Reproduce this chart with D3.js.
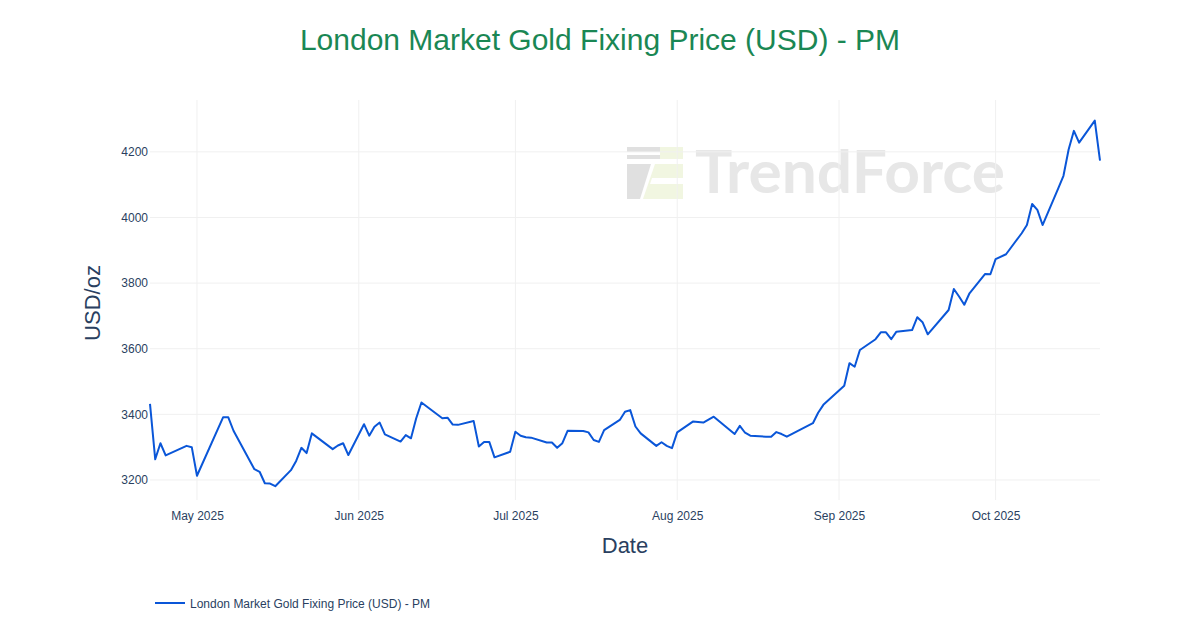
<!DOCTYPE html>
<html>
<head>
<meta charset="utf-8">
<script src="https://cdn.jsdelivr.net/npm/d3@7"></script>
<style>
  html, body { margin: 0; padding: 0; background: #fff; }
  svg { display: block; font-family: "Liberation Sans", Arial, sans-serif; }
</style>
</head>
<body>
<svg id="chart" width="1200" height="630"></svg>
<script>
// ---- data ----
const dates = [
  "2025-04-22","2025-04-23","2025-04-24","2025-04-25","2025-04-29","2025-04-30",
  "2025-05-01","2025-05-06","2025-05-07","2025-05-08","2025-05-12","2025-05-13",
  "2025-05-14","2025-05-15","2025-05-16","2025-05-19","2025-05-20","2025-05-21",
  "2025-05-22","2025-05-23","2025-05-27","2025-05-28","2025-05-29","2025-05-30",
  "2025-06-02","2025-06-03","2025-06-04","2025-06-05","2025-06-06","2025-06-09",
  "2025-06-10","2025-06-11","2025-06-12","2025-06-13","2025-06-17","2025-06-18",
  "2025-06-19","2025-06-20","2025-06-23","2025-06-24","2025-06-25","2025-06-26",
  "2025-06-27","2025-06-30","2025-07-01","2025-07-02","2025-07-03","2025-07-04",
  "2025-07-07","2025-07-08","2025-07-09","2025-07-10","2025-07-11","2025-07-14",
  "2025-07-15","2025-07-16","2025-07-17","2025-07-18","2025-07-21","2025-07-22",
  "2025-07-23","2025-07-24","2025-07-25","2025-07-28","2025-07-29","2025-07-30",
  "2025-07-31","2025-08-01","2025-08-04","2025-08-06","2025-08-08","2025-08-12",
  "2025-08-13","2025-08-14","2025-08-15","2025-08-18","2025-08-19","2025-08-20",
  "2025-08-21","2025-08-22","2025-08-27","2025-08-28","2025-08-29","2025-09-02",
  "2025-09-03","2025-09-04","2025-09-05","2025-09-08","2025-09-09","2025-09-10",
  "2025-09-11","2025-09-12","2025-09-15","2025-09-16","2025-09-17","2025-09-18",
  "2025-09-22","2025-09-23","2025-09-24","2025-09-25","2025-09-26","2025-09-29",
  "2025-09-30","2025-10-01","2025-10-03","2025-10-06","2025-10-07","2025-10-08",
  "2025-10-09","2025-10-10","2025-10-13","2025-10-14","2025-10-15","2025-10-16",
  "2025-10-17","2025-10-20","2025-10-21"
];
const prices = [
  3432,3263,3312,3275,3304,3300,
  3213,3391,3391,3350,3233,3225,
  3190,3189,3181,3230,3258,3298,
  3282,3342,3294,3305,3312,3276,
  3370,3335,3362,3375,3339,3317,
  3337,3327,3388,3436,3388,3390,
  3369,3368,3380,3302,3316,3316,
  3269,3286,3347,3335,3330,3329,
  3314,3314,3298,3312,3350,3349,
  3345,3322,3316,3352,3383,3408,
  3413,3363,3342,3304,3315,3304,
  3297,3345,3378,3375,3393,3340,
  3365,3344,3335,3332,3332,3346,
  3340,3332,3373,3405,3429,3487,
  3556,3545,3596,3629,3650,3650,
  3629,3652,3657,3696,3681,3644,
  3718,3782,3759,3734,3769,3828,
  3827,3873,3888,3952,3977,4041,
  4023,3977,4089,4127,4208,4264,
  4228,4295,4173
];
const yTicks = [3200, 3400, 3600, 3800, 4000, 4200];
const xTicks = ["2025-05-01","2025-06-01","2025-07-01","2025-08-01","2025-09-01","2025-10-01"];
const titleText = "London Market Gold Fixing Price (USD) - PM";
const seriesName = "London Market Gold Fixing Price (USD) - PM";
const xTitle = "Date";
const yTitle = "USD/oz";

// ---- setup ----
const parse = d3.utcParse("%Y-%m-%d");
const data = dates.map((d, i) => ({ date: parse(d), value: prices[i] }));

const svg = d3.select("#chart");
const W = 1200, H = 630;
const m = { left: 150, right: 100, top: 100, bottom: 130 };
const pw = W - m.left - m.right, ph = H - m.top - m.bottom;

const x = d3.scaleUtc()
  .domain([parse("2025-04-22"), parse("2025-10-21")])
  .range([m.left, m.left + pw]);
const y = d3.scaleLinear()
  .domain([3139, 4358])
  .range([m.top + ph, m.top]);

const textColor = "#2a3f5f";
const gridColor = "#f0f0f0";

// ---- watermark ----
const wm = svg.append("g").attr("opacity", 0.55);
wm.append("path")
  .attr("d", "M627,147 L660,147 L660,152 L627,152 Z M627,155 L660,155 L660,159 L627,159 Z M627,164 L651,164 L640,199 L627,199 Z")
  .attr("fill", "#c8c8c8");
wm.append("path")
  .attr("d", "M660,147 L683,147 L683,159 L660,159 Z M655,164 L683,164 L683,199 L643,199 Z")
  .attr("fill", "#e6efc9");
wm.append("path")
  .attr("d", "M652,178 L683,178 L683,184 L650,184 Z")
  .attr("fill", "#ffffff");
wm.append("text")
  .attr("x", 695).attr("y", 193)
  .attr("font-family", "Lato, 'Open Sans', sans-serif")
  .attr("font-weight", "bold")
  .attr("font-size", 60)
  .attr("textLength", 310)
  .attr("lengthAdjust", "spacingAndGlyphs")
  .attr("fill", "#d4d4d4")
  .text("TrendForce");

// ---- grid ----
const grid = svg.append("g");
grid.selectAll("line.h").data(yTicks).join("line")
  .attr("x1", m.left).attr("x2", m.left + pw)
  .attr("y1", d => y(d)).attr("y2", d => y(d))
  .attr("stroke", gridColor).attr("stroke-width", 1);
grid.selectAll("line.v").data(xTicks.map(parse)).join("line")
  .attr("y1", m.top).attr("y2", m.top + ph)
  .attr("x1", d => x(d)).attr("x2", d => x(d))
  .attr("stroke", gridColor).attr("stroke-width", 1);

// ---- axes ----
const yAxis = d3.axisLeft(y).tickValues(yTicks).tickSize(0).tickPadding(2).tickFormat(d3.format("d"));
const gy = svg.append("g").attr("transform", `translate(${m.left - 0},0)`).call(yAxis);
gy.select(".domain").remove();
gy.selectAll("text").attr("font-size", 12).attr("fill", textColor)
  .attr("font-family", "'Liberation Sans', Arial, sans-serif");

const xAxis = d3.axisBottom(x).tickValues(xTicks.map(parse)).tickSize(0).tickPadding(11)
  .tickFormat(d3.utcFormat("%b %Y"));
const gx = svg.append("g").attr("transform", `translate(0,${m.top + ph})`).call(xAxis);
gx.select(".domain").remove();
gx.selectAll("text").attr("font-size", 12).attr("fill", textColor)
  .attr("font-family", "'Liberation Sans', Arial, sans-serif");

// ---- line ----
const line = d3.line().x(d => x(d.date)).y(d => y(d.value));
svg.append("path").datum(data)
  .attr("d", line)
  .attr("fill", "none")
  .attr("stroke", "#0a56d8")
  .attr("stroke-width", 2)
  .attr("stroke-linejoin", "round");

// ---- titles ----
svg.append("text")
  .attr("x", 600).attr("y", 50)
  .attr("text-anchor", "middle")
  .attr("font-size", 30)
  .attr("fill", "#1a8754")
  .text(titleText);

svg.append("text")
  .attr("x", 625).attr("y", 553)
  .attr("text-anchor", "middle")
  .attr("font-size", 22)
  .attr("fill", textColor)
  .text(xTitle);

svg.append("text")
  .attr("transform", "translate(100,303) rotate(-90)")
  .attr("text-anchor", "middle")
  .attr("font-size", 22)
  .attr("fill", textColor)
  .text(yTitle);

// ---- legend ----
const lg = svg.append("g").attr("transform", "translate(155,603)");
lg.append("line").attr("x1", 0).attr("x2", 30).attr("y1", 0).attr("y2", 0)
  .attr("stroke", "#0a56d8").attr("stroke-width", 2);
lg.append("text").attr("x", 35).attr("y", 4.5)
  .attr("font-size", 12).attr("fill", textColor)
  .text(seriesName);
</script>
</body>
</html>
